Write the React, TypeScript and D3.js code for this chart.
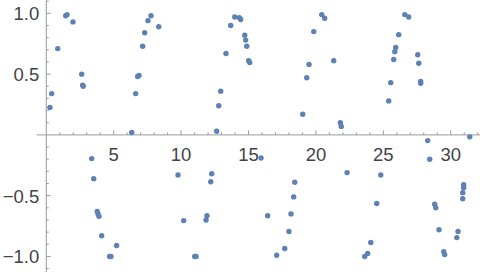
import React from "react";
import * as d3 from "d3";

const xValues = [
  0.27, 0.4, 0.85, 1.44, 1.54, 1.98, 2.63, 2.7, 2.74, 6.34, 6.63, 6.78, 6.88, 7.15, 7.3, 7.54, 7.77, 8.34,
  12.64, 12.79, 12.94, 13.33, 13.68, 13.98, 14.32, 14.42, 14.72, 14.79, 14.87, 15.01, 15.09,
  19.02, 19.32, 19.49, 19.84, 20.43, 20.65, 21.32, 21.81, 21.88,
  25.4, 25.55, 25.77, 25.85, 25.92, 26.14, 26.59, 26.88, 27.55, 27.63, 27.77, 27.77, 31.41,
  3.37, 3.52, 3.78, 3.84, 3.91, 4.11, 5.22, 4.7, 4.8,
  9.77, 10.19, 11.01, 11.11, 11.85, 11.92, 12.2, 12.27,
  15.93, 16.42, 17.09, 17.69, 18.0, 18.15, 18.35, 18.43,
  22.31, 24.81, 24.51, 24.07, 23.84, 23.62,
  28.29, 28.44, 28.81, 28.89, 29.13, 29.48, 29.55, 30.54, 30.45, 30.89, 30.89, 30.96, 30.96,
];
const yValues = [
  0.225, 0.34, 0.71, 0.98, 0.99, 0.93, 0.5, 0.41, 0.4, 0.02, 0.34, 0.48, 0.49, 0.73, 0.84, 0.94, 0.98, 0.89,
  0.03, 0.24, 0.36, 0.67, 0.9, 0.97, 0.965, 0.95, 0.82, 0.78, 0.73, 0.61, 0.595,
  0.17, 0.47, 0.58, 0.85, 0.99, 0.96, 0.61, 0.1, 0.07,
  0.28, 0.43, 0.62, 0.685, 0.72, 0.825, 0.99, 0.97, 0.66, 0.59, 0.44, 0.425, -0.016,
  -0.195, -0.36, -0.63, -0.65, -0.67, -0.83, -0.91, -1.0, -1.0,
  -0.33, -0.705, -1.0, -1.0, -0.7, -0.665, -0.385, -0.32,
  -0.19, -0.665, -0.99, -0.935, -0.795, -0.65, -0.51, -0.39,
  -0.31, -0.33, -0.565, -0.885, -0.975, -1.0,
  -0.047, -0.2, -0.57, -0.6, -0.78, -0.96, -0.985, -0.795, -0.845, -0.525, -0.475, -0.435, -0.41,
];
const xMajorTicks = [5, 10, 15, 20, 25, 30];
const yMajorTicks = [-1.0, -0.5, 0.5, 1.0];
const yTickLabels = ["\u22121.0", "\u22120.5", "0.5", "1.0"];

const W = 480;
const H = 276;

export default function App() {
  const x = d3.scaleLinear().domain([-0.71, 32.17]).range([36.7, 480]);
  const y = d3.scaleLinear().domain([1.11, -1.128]).range([0, 272]);
  const x0 = x(0);
  const y0 = y(0);
  const xMinor = d3.range(1, 33).filter((v) => v % 5 !== 0);
  const yMinor = d3
    .range(-11, 12)
    .filter((v) => v !== 0 && v % 5 !== 0)
    .map((v) => v / 10);
  const axisColor = "#999999";
  const textColor = "#444444";
  const font = "'Liberation Sans', Arial, sans-serif";
  return (
    <svg
      width={W}
      height={H}
      style={{ position: "absolute", left: 0, top: 0, background: "#fff" }}
    >
      {/* axes */}
      <line x1={x.range()[0]} x2={x.range()[1]} y1={y0} y2={y0} stroke={axisColor} strokeWidth={1} />
      <line x1={x0} x2={x0} y1={0} y2={272} stroke={axisColor} strokeWidth={1} />
      {/* x ticks */}
      {xMinor.map((v) => (
        <line key={"xm" + v} x1={x(v)} x2={x(v)} y1={y0} y2={y0 - 2.5} stroke={axisColor} />
      ))}
      {xMajorTicks.map((v) => (
        <line key={"xM" + v} x1={x(v)} x2={x(v)} y1={y0} y2={y0 - 4.5} stroke={axisColor} />
      ))}
      {xMajorTicks.map((v) => (
        <text
          key={"xl" + v}
          x={x(v)}
          y={y0 + 26}
          textAnchor="middle"
          fontFamily={font}
          fontSize={18.5}
          fill={textColor}
        >
          {String(v)}
        </text>
      ))}
      {/* y ticks */}
      {yMinor.map((v) => (
        <line key={"ym" + v} x1={x0} x2={x0 + 2.5} y1={y(v)} y2={y(v)} stroke={axisColor} />
      ))}
      {yMajorTicks.map((v) => (
        <line key={"yM" + v} x1={x0} x2={x0 + 4.5} y1={y(v)} y2={y(v)} stroke={axisColor} />
      ))}
      {yMajorTicks.map((v, i) => (
        <text
          key={"yl" + v}
          x={x0 - 7}
          y={y(v) + 7}
          textAnchor="end"
          fontFamily={font}
          fontSize={18.5}
          fill={textColor}
        >
          {yTickLabels[i]}
        </text>
      ))}
      {/* points */}
      {xValues.map((v, i) => (
        <circle key={"p" + i} cx={x(v)} cy={y(yValues[i])} r={2.7} fill="#5e81b5" />
      ))}
    </svg>
  );
}
